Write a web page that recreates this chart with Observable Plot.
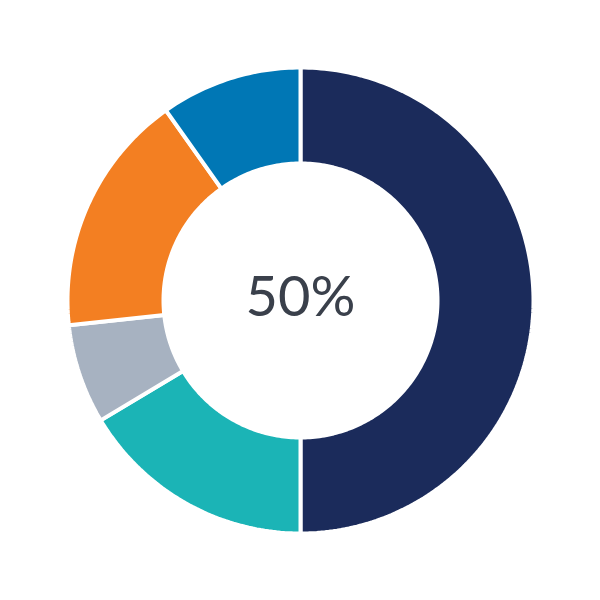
<!DOCTYPE html>
<html>
<head>
<meta charset="utf-8">
<script src="https://cdn.jsdelivr.net/npm/d3@7"></script>
<script src="https://cdn.jsdelivr.net/npm/@observablehq/plot@0.6"></script>
<style>
  html, body { margin: 0; padding: 0; background: #ffffff; }
  #chart { width: 600px; height: 600px; }
</style>
</head>
<body>
<div id="chart"></div>
<script>
// Data, clockwise from 12 o'clock
const categories = ["Segment A", "Segment B", "Segment C", "Segment D", "Segment E"];
const values = [50, 16.4, 6.9, 16.9, 9.8];
const colors = ["#1b2b5b", "#1bb4b6", "#a7b2c1", "#f37f22", "#0077b5"];
const centerLabel = ["50%"];

const innerRatio = 0.588;
const total = d3.sum(values);

// Build slice outlines in unit (data) coordinates from the values
const pts = [];
let start = 0;
categories.forEach((c, i) => {
  const a0 = start / total * 2 * Math.PI;
  const a1 = (start + values[i]) / total * 2 * Math.PI;
  start += values[i];
  const n = Math.max(8, Math.ceil((a1 - a0) / (Math.PI / 180)));
  for (let k = 0; k <= n; k++) {
    const a = a0 + (a1 - a0) * k / n;
    pts.push({key: c, x: Math.sin(a), y: Math.cos(a)});
  }
  for (let k = n; k >= 0; k--) {
    const a = a0 + (a1 - a0) * k / n;
    pts.push({key: c, x: innerRatio * Math.sin(a), y: innerRatio * Math.cos(a)});
  }
  pts.push({key: c, x: Math.sin(a0), y: Math.cos(a0)});
});

const chart = Plot.plot({
  width: 600,
  height: 600,
  marginTop: 67,
  marginBottom: 67,
  marginLeft: 67,
  marginRight: 67,
  x: {domain: [-1, 1], axis: null},
  y: {domain: [-1, 1], axis: null},
  color: {domain: categories, range: colors},
  style: {background: "#ffffff"},
  marks: [
    Plot.line(pts, {
      x: "x", y: "y", z: "key", fill: "key",
      stroke: "#ffffff", strokeWidth: 4, strokeLinejoin: "miter",
      curve: "linear"
    }),
    Plot.text(centerLabel, {
      x: () => 0, y: () => 0, text: d => d,
      fontSize: 56, fontFamily: "Lato", fontWeight: 400,
      fill: "#3a404b", dy: -2
    })
  ]
});
document.getElementById("chart").appendChild(chart);
</script>
</body>
</html>
